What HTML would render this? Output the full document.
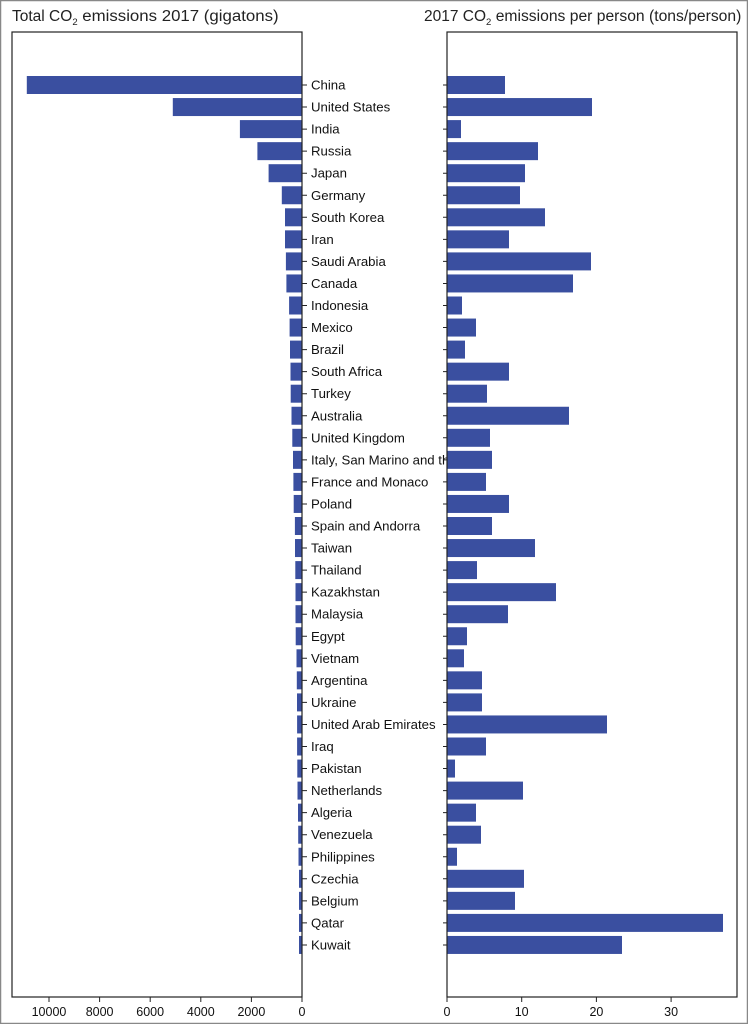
<!DOCTYPE html>
<html><head><style>body{margin:0;background:#fff}svg{display:block}
.r rect{fill:#3a4fa0}.r path{stroke:#222;stroke-width:1;fill:none}.r text{font-size:13.2px;fill:#111}
</style></head><body>
<svg width="748" height="1024" xmlns="http://www.w3.org/2000/svg" font-family="Liberation Sans, sans-serif">
<defs><clipPath id="cl"><rect x="0" y="-2000" width="447" height="4000"/></clipPath></defs>
<rect x="0.5" y="0.5" width="747" height="1023" fill="#fff" stroke="#888" stroke-width="1.5"/>
<text x="12" y="21" font-size="15.5" fill="#222">Total CO<tspan font-size="9.5" dy="4">2</tspan><tspan dy="-4" textLength="201" lengthAdjust="spacingAndGlyphs"> emissions 2017 (gigatons)</tspan></text>
<text x="424" y="21" font-size="15.5" fill="#222">2017 CO<tspan font-size="9.5" dy="4">2</tspan><tspan dy="-4" textLength="250" lengthAdjust="spacingAndGlyphs"> emissions per person (tons/person)</tspan></text>
<g class="r">
<g transform="translate(0,85)"><rect x="26.8" y="-9" width="275.2" height="18"/><rect x="447" y="-9" width="58" height="18"/><path d="M302 0h5M443 0h4"/><text x="311" y="4.5" clip-path="url(#cl)">China</text></g>
<g transform="translate(0,107.05)"><rect x="172.8" y="-9" width="129.2" height="18"/><rect x="447" y="-9" width="145" height="18"/><path d="M302 0h5M443 0h4"/><text x="311" y="4.5" clip-path="url(#cl)">United States</text></g>
<g transform="translate(0,129.1)"><rect x="239.9" y="-9" width="62.1" height="18"/><rect x="447" y="-9" width="14" height="18"/><path d="M302 0h5M443 0h4"/><text x="311" y="4.5" clip-path="url(#cl)">India</text></g>
<g transform="translate(0,151.15)"><rect x="257.4" y="-9" width="44.6" height="18"/><rect x="447" y="-9" width="91" height="18"/><path d="M302 0h5M443 0h4"/><text x="311" y="4.5" clip-path="url(#cl)">Russia</text></g>
<g transform="translate(0,173.2)"><rect x="268.6" y="-9" width="33.4" height="18"/><rect x="447" y="-9" width="78" height="18"/><path d="M302 0h5M443 0h4"/><text x="311" y="4.5" clip-path="url(#cl)">Japan</text></g>
<g transform="translate(0,195.25)"><rect x="281.8" y="-9" width="20.2" height="18"/><rect x="447" y="-9" width="73" height="18"/><path d="M302 0h5M443 0h4"/><text x="311" y="4.5" clip-path="url(#cl)">Germany</text></g>
<g transform="translate(0,217.3)"><rect x="285" y="-9" width="17" height="18"/><rect x="447" y="-9" width="98" height="18"/><path d="M302 0h5M443 0h4"/><text x="311" y="4.5" clip-path="url(#cl)">South Korea</text></g>
<g transform="translate(0,239.35)"><rect x="285" y="-9" width="17" height="18"/><rect x="447" y="-9" width="62" height="18"/><path d="M302 0h5M443 0h4"/><text x="311" y="4.5" clip-path="url(#cl)">Iran</text></g>
<g transform="translate(0,261.4)"><rect x="285.9" y="-9" width="16.1" height="18"/><rect x="447" y="-9" width="144" height="18"/><path d="M302 0h5M443 0h4"/><text x="311" y="4.5" clip-path="url(#cl)">Saudi Arabia</text></g>
<g transform="translate(0,283.45)"><rect x="286.4" y="-9" width="15.6" height="18"/><rect x="447" y="-9" width="126" height="18"/><path d="M302 0h5M443 0h4"/><text x="311" y="4.5" clip-path="url(#cl)">Canada</text></g>
<g transform="translate(0,305.5)"><rect x="289.1" y="-9" width="12.9" height="18"/><rect x="447" y="-9" width="15" height="18"/><path d="M302 0h5M443 0h4"/><text x="311" y="4.5" clip-path="url(#cl)">Indonesia</text></g>
<g transform="translate(0,327.55)"><rect x="289.6" y="-9" width="12.4" height="18"/><rect x="447" y="-9" width="29" height="18"/><path d="M302 0h5M443 0h4"/><text x="311" y="4.5" clip-path="url(#cl)">Mexico</text></g>
<g transform="translate(0,349.6)"><rect x="290" y="-9" width="12" height="18"/><rect x="447" y="-9" width="18" height="18"/><path d="M302 0h5M443 0h4"/><text x="311" y="4.5" clip-path="url(#cl)">Brazil</text></g>
<g transform="translate(0,371.65)"><rect x="290.5" y="-9" width="11.5" height="18"/><rect x="447" y="-9" width="62" height="18"/><path d="M302 0h5M443 0h4"/><text x="311" y="4.5" clip-path="url(#cl)">South Africa</text></g>
<g transform="translate(0,393.7)"><rect x="290.7" y="-9" width="11.3" height="18"/><rect x="447" y="-9" width="40" height="18"/><path d="M302 0h5M443 0h4"/><text x="311" y="4.5" clip-path="url(#cl)">Turkey</text></g>
<g transform="translate(0,415.75)"><rect x="291.5" y="-9" width="10.5" height="18"/><rect x="447" y="-9" width="122" height="18"/><path d="M302 0h5M443 0h4"/><text x="311" y="4.5" clip-path="url(#cl)">Australia</text></g>
<g transform="translate(0,437.8)"><rect x="292.3" y="-9" width="9.7" height="18"/><rect x="447" y="-9" width="43" height="18"/><path d="M302 0h5M443 0h4"/><text x="311" y="4.5" clip-path="url(#cl)">United Kingdom</text></g>
<g transform="translate(0,459.85)"><rect x="293" y="-9" width="9" height="18"/><rect x="447" y="-9" width="45" height="18"/><path d="M302 0h5M443 0h4"/><text x="311" y="4.5" clip-path="url(#cl)">Italy, San Marino and the Holy See</text></g>
<g transform="translate(0,481.9)"><rect x="293.4" y="-9" width="8.6" height="18"/><rect x="447" y="-9" width="39" height="18"/><path d="M302 0h5M443 0h4"/><text x="311" y="4.5" clip-path="url(#cl)">France and Monaco</text></g>
<g transform="translate(0,503.95)"><rect x="293.7" y="-9" width="8.3" height="18"/><rect x="447" y="-9" width="62" height="18"/><path d="M302 0h5M443 0h4"/><text x="311" y="4.5" clip-path="url(#cl)">Poland</text></g>
<g transform="translate(0,526)"><rect x="294.9" y="-9" width="7.1" height="18"/><rect x="447" y="-9" width="45" height="18"/><path d="M302 0h5M443 0h4"/><text x="311" y="4.5" clip-path="url(#cl)">Spain and Andorra</text></g>
<g transform="translate(0,548.05)"><rect x="295" y="-9" width="7" height="18"/><rect x="447" y="-9" width="88" height="18"/><path d="M302 0h5M443 0h4"/><text x="311" y="4.5" clip-path="url(#cl)">Taiwan</text></g>
<g transform="translate(0,570.1)"><rect x="295.3" y="-9" width="6.7" height="18"/><rect x="447" y="-9" width="30" height="18"/><path d="M302 0h5M443 0h4"/><text x="311" y="4.5" clip-path="url(#cl)">Thailand</text></g>
<g transform="translate(0,592.15)"><rect x="295.5" y="-9" width="6.5" height="18"/><rect x="447" y="-9" width="109" height="18"/><path d="M302 0h5M443 0h4"/><text x="311" y="4.5" clip-path="url(#cl)">Kazakhstan</text></g>
<g transform="translate(0,614.2)"><rect x="295.5" y="-9" width="6.5" height="18"/><rect x="447" y="-9" width="61" height="18"/><path d="M302 0h5M443 0h4"/><text x="311" y="4.5" clip-path="url(#cl)">Malaysia</text></g>
<g transform="translate(0,636.25)"><rect x="295.7" y="-9" width="6.3" height="18"/><rect x="447" y="-9" width="20" height="18"/><path d="M302 0h5M443 0h4"/><text x="311" y="4.5" clip-path="url(#cl)">Egypt</text></g>
<g transform="translate(0,658.3)"><rect x="296.5" y="-9" width="5.5" height="18"/><rect x="447" y="-9" width="17" height="18"/><path d="M302 0h5M443 0h4"/><text x="311" y="4.5" clip-path="url(#cl)">Vietnam</text></g>
<g transform="translate(0,680.35)"><rect x="296.8" y="-9" width="5.2" height="18"/><rect x="447" y="-9" width="35" height="18"/><path d="M302 0h5M443 0h4"/><text x="311" y="4.5" clip-path="url(#cl)">Argentina</text></g>
<g transform="translate(0,702.4)"><rect x="297" y="-9" width="5" height="18"/><rect x="447" y="-9" width="35" height="18"/><path d="M302 0h5M443 0h4"/><text x="311" y="4.5" clip-path="url(#cl)">Ukraine</text></g>
<g transform="translate(0,724.45)"><rect x="297.1" y="-9" width="4.9" height="18"/><rect x="447" y="-9" width="160" height="18"/><path d="M302 0h5M443 0h4"/><text x="311" y="4.5" clip-path="url(#cl)">United Arab Emirates</text></g>
<g transform="translate(0,746.5)"><rect x="297.1" y="-9" width="4.9" height="18"/><rect x="447" y="-9" width="39" height="18"/><path d="M302 0h5M443 0h4"/><text x="311" y="4.5" clip-path="url(#cl)">Iraq</text></g>
<g transform="translate(0,768.55)"><rect x="297.3" y="-9" width="4.7" height="18"/><rect x="447" y="-9" width="8" height="18"/><path d="M302 0h5M443 0h4"/><text x="311" y="4.5" clip-path="url(#cl)">Pakistan</text></g>
<g transform="translate(0,790.6)"><rect x="297.5" y="-9" width="4.5" height="18"/><rect x="447" y="-9" width="76" height="18"/><path d="M302 0h5M443 0h4"/><text x="311" y="4.5" clip-path="url(#cl)">Netherlands</text></g>
<g transform="translate(0,812.65)"><rect x="298" y="-9" width="4" height="18"/><rect x="447" y="-9" width="29" height="18"/><path d="M302 0h5M443 0h4"/><text x="311" y="4.5" clip-path="url(#cl)">Algeria</text></g>
<g transform="translate(0,834.7)"><rect x="298.2" y="-9" width="3.8" height="18"/><rect x="447" y="-9" width="34" height="18"/><path d="M302 0h5M443 0h4"/><text x="311" y="4.5" clip-path="url(#cl)">Venezuela</text></g>
<g transform="translate(0,856.75)"><rect x="298.5" y="-9" width="3.5" height="18"/><rect x="447" y="-9" width="10" height="18"/><path d="M302 0h5M443 0h4"/><text x="311" y="4.5" clip-path="url(#cl)">Philippines</text></g>
<g transform="translate(0,878.8)"><rect x="299" y="-9" width="3" height="18"/><rect x="447" y="-9" width="77" height="18"/><path d="M302 0h5M443 0h4"/><text x="311" y="4.5" clip-path="url(#cl)">Czechia</text></g>
<g transform="translate(0,900.85)"><rect x="299" y="-9" width="3" height="18"/><rect x="447" y="-9" width="68" height="18"/><path d="M302 0h5M443 0h4"/><text x="311" y="4.5" clip-path="url(#cl)">Belgium</text></g>
<g transform="translate(0,922.9)"><rect x="299" y="-9" width="3" height="18"/><rect x="447" y="-9" width="276" height="18"/><path d="M302 0h5M443 0h4"/><text x="311" y="4.5" clip-path="url(#cl)">Qatar</text></g>
<g transform="translate(0,944.95)"><rect x="299" y="-9" width="3" height="18"/><rect x="447" y="-9" width="175" height="18"/><path d="M302 0h5M443 0h4"/><text x="311" y="4.5" clip-path="url(#cl)">Kuwait</text></g>
</g>
<rect x="12" y="32" width="290" height="965" fill="none" stroke="#222" stroke-width="1.2"/>
<rect x="447" y="32" width="290" height="965" fill="none" stroke="#222" stroke-width="1.2"/>
<path d="M302 997v5M251.4 997v5M200.8 997v5M150.2 997v5M99.6 997v5M49 997v5M447 997v5M521.7 997v5M596.4 997v5M671.1 997v5" stroke="#222"/>
<g font-size="12.5" fill="#111" text-anchor="middle">
<text x="302" y="1016">0</text><text x="251.4" y="1016">2000</text><text x="200.8" y="1016">4000</text><text x="150.2" y="1016">6000</text><text x="99.6" y="1016">8000</text><text x="49" y="1016">10000</text>
<text x="447" y="1016">0</text><text x="521.7" y="1016">10</text><text x="596.4" y="1016">20</text><text x="671.1" y="1016">30</text>
</g>
</svg>
</body></html>
